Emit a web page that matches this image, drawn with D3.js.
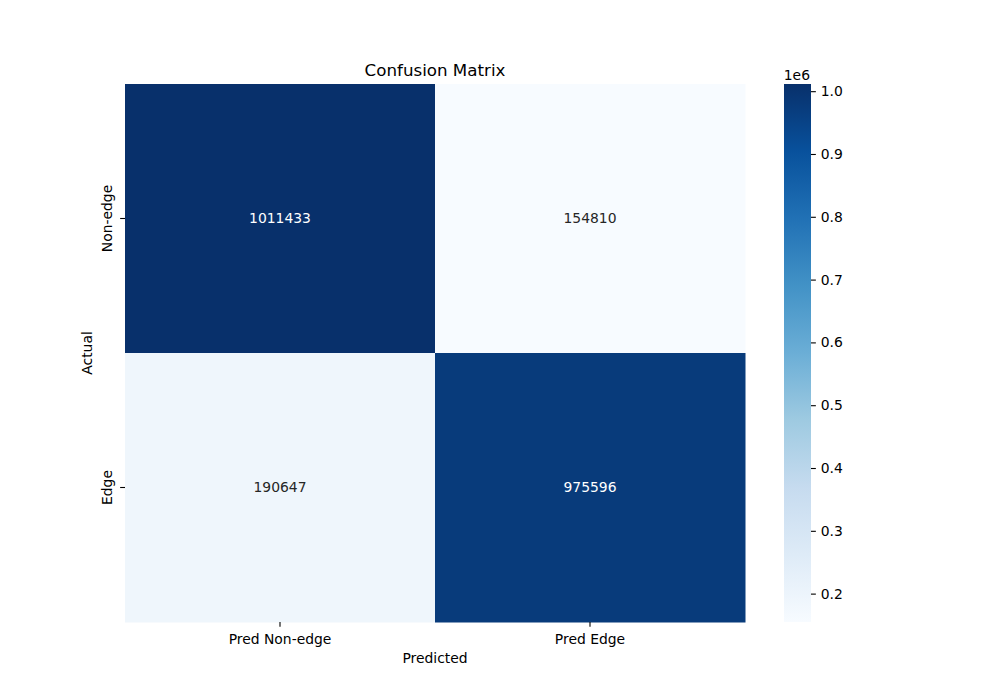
<!DOCTYPE html>
<html>
<head>
<meta charset="utf-8">
<script src="https://cdn.jsdelivr.net/npm/d3@7"></script>
<style>
  body { margin: 0; background: #fff; }
  svg text { font-family: "DejaVu Sans", sans-serif; fill: #000; }
</style>
</head>
<body>
<svg id="chart" width="1000" height="700"></svg>
<script>
// confusion matrix values, rows = actual, cols = predicted
const actualLabels = ["Non-edge", "Edge"];
const predictedLabels = ["Pred Non-edge", "Pred Edge"];
const matrixValues = [
  [1011433, 154810],
  [190647, 975596]
];
const colorbarTicks = [0.2, 0.3, 0.4, 0.5, 0.6, 0.7, 0.8, 0.9, 1.0];

// matplotlib "Blues" stops
const bluesStops = ["#f7fbff", "#deebf7", "#c6dbef", "#9ecae1", "#6baed6",
  "#4292c6", "#2171b5", "#08519c", "#08306b"];

const svg = d3.select("#chart");
const margin = { top: 84, left: 125 };
const plotW = 620, plotH = 538;

const cells = [];
matrixValues.forEach((row, i) => row.forEach((v, j) => {
  cells.push({ actual: actualLabels[i], pred: predictedLabels[j], value: v });
}));

const vmin = d3.min(cells, d => d.value);
const vmax = d3.max(cells, d => d.value);
const t = d3.scaleLinear().domain([vmin, vmax]).range([0, 1]);
const blues = d3.scaleLinear()
  .domain(bluesStops.map((_, i) => i / (bluesStops.length - 1)))
  .range(bluesStops)
  .interpolate(d3.interpolateRgb);
const color = v => blues(t(v));

const x = d3.scaleBand().domain(predictedLabels).range([0, plotW]);
const y = d3.scaleBand().domain(actualLabels).range([0, plotH]);

const g = svg.append("g").attr("transform", `translate(${margin.left},${margin.top})`);

g.selectAll("rect.cell").data(cells).enter().append("rect")
  .attr("class", "cell")
  .attr("x", d => x(d.pred))
  .attr("y", d => y(d.actual))
  .attr("width", x.bandwidth() + 0.5)
  .attr("height", y.bandwidth() + 0.5)
  .attr("fill", d => color(d.value));

function luminance(c) {
  const rgb = d3.rgb(c);
  const f = u => { u /= 255; return u <= 0.03928 ? u / 12.92 : Math.pow((u + 0.055) / 1.055, 2.4); };
  return 0.2126 * f(rgb.r) + 0.7152 * f(rgb.g) + 0.0722 * f(rgb.b);
}

g.selectAll("text.annot").data(cells).enter().append("text")
  .attr("class", "annot")
  .attr("x", d => x(d.pred) + x.bandwidth() / 2)
  .attr("y", d => y(d.actual) + y.bandwidth() / 2)
  .attr("dy", "0.35em")
  .attr("text-anchor", "middle")
  .attr("font-size", 13.9)
  .style("fill", d => luminance(color(d.value)) > 0.408 ? "#262626" : "#ffffff")
  .text(d => d.value);

// axes
const xAxis = g.append("g").attr("transform", `translate(0,${plotH})`)
  .call(d3.axisBottom(x).tickSize(4.86).tickPadding(6.5));
xAxis.select(".domain").remove();
xAxis.selectAll("text").attr("font-size", 13.9).attr("dy", "0.75em").style("font-family", "DejaVu Sans");
xAxis.selectAll("line").attr("stroke", "#000").attr("stroke-width", 1.1);

const yAxis = g.append("g")
  .call(d3.axisLeft(y).tickSize(4.86).tickPadding(0));
yAxis.select(".domain").remove();
yAxis.selectAll("line").attr("stroke", "#000").attr("stroke-width", 1.1);
yAxis.selectAll("text")
  .attr("font-size", 13.9)
  .style("font-family", "DejaVu Sans")
  .attr("x", 0).attr("dy", 0)
  .attr("text-anchor", "middle")
  .attr("transform", "translate(-13,0) rotate(-90)");

svg.append("text")
  .attr("x", margin.left + plotW / 2).attr("y", 76)
  .attr("text-anchor", "middle").attr("font-size", 16.7)
  .text("Confusion Matrix");
svg.append("text")
  .attr("x", margin.left + plotW / 2).attr("y", 663)
  .attr("text-anchor", "middle").attr("font-size", 13.9)
  .text("Predicted");
svg.append("text")
  .attr("transform", `translate(92,${margin.top + plotH / 2}) rotate(-90)`)
  .attr("text-anchor", "middle").attr("font-size", 13.9)
  .text("Actual");

// colorbar
const cbX = 784, cbW = 27;
const cbScale = d3.scaleLinear().domain([vmin / 1e6, vmax / 1e6]).range([margin.top + plotH, margin.top]);
const defs = svg.append("defs");
const grad = defs.append("linearGradient").attr("id", "cbgrad")
  .attr("x1", 0).attr("y1", 1).attr("x2", 0).attr("y2", 0);
bluesStops.forEach((c, i) => {
  grad.append("stop").attr("offset", i / (bluesStops.length - 1)).attr("stop-color", c);
});
svg.append("rect")
  .attr("x", cbX).attr("y", margin.top)
  .attr("width", cbW).attr("height", plotH)
  .attr("fill", "url(#cbgrad)");

const cbAxis = svg.append("g").attr("transform", `translate(${cbX + cbW},0)`)
  .call(d3.axisRight(cbScale).tickValues(colorbarTicks).tickFormat(d3.format(".1f"))
    .tickSize(4.86).tickPadding(4.86));
cbAxis.select(".domain").remove();
cbAxis.selectAll("line").attr("stroke", "#000").attr("stroke-width", 1.1);
cbAxis.selectAll("text").attr("font-size", 13.9).style("font-family", "DejaVu Sans");

svg.append("text")
  .attr("x", cbX + cbW - 1).attr("y", 80)
  .attr("text-anchor", "end").attr("font-size", 13.9)
  .text("1e6");
</script>
</body>
</html>
